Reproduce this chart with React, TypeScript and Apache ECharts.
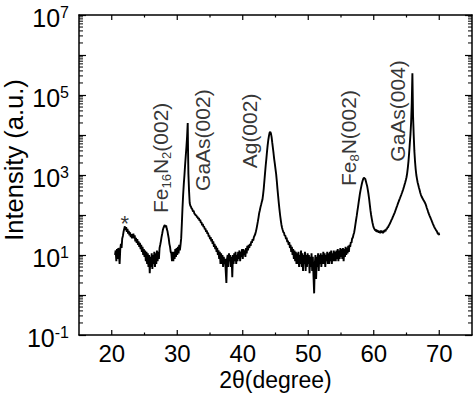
import React, { useEffect, useRef } from 'react';
import * as echarts from 'echarts';

const FONT = "'Liberation Sans', Arial, Helvetica, sans-serif";

// Axis ranges and ticks
const X_MIN = 15;
const X_MAX = 75;
const Y_MIN = 0.1;
const Y_MAX = 1e7;
const xTickValues = [20, 25, 30, 35, 40, 45, 50, 55, 60, 65, 70];
const xLabelValues = [20, 30, 40, 50, 60, 70];
const yLabelExponents = [-1, 1, 3, 5, 7];
const yDecades = [-1, 0, 1, 2, 3, 4, 5, 6];
const yMinorMultipliers = [2, 3, 4, 5, 6, 7, 8, 9];

// XRD scan, [2θ (degree), intensity (a.u.)]
const scanStarRegion: [number, number][] = [
  [20.5, 10], [20.6, 13], [20.7, 7], [20.8, 14], [20.9, 8], [21.0, 15], [21.1, 10], [21.2, 6], [21.3, 14], [21.4, 19],
  [21.5, 15], [21.6, 26], [21.7, 30], [21.8, 38], [21.9, 45], [22.0, 52], [22.1, 42], [22.2, 50], [22.3, 38], [22.4, 45],
  [22.5, 34], [22.6, 40], [22.7, 31], [22.8, 37], [22.9, 28], [23.0, 33], [23.1, 26], [23.2, 31], [23.3, 34], [23.4, 26],
  [23.5, 31], [23.6, 22], [23.7, 27], [23.8, 20], [23.9, 25], [24.0, 18], [24.1, 22], [24.2, 16], [24.3, 20], [24.4, 14],
  [24.5, 18], [24.6, 12], [24.7, 16], [24.8, 10], [24.9, 14], [25.0, 9], [25.1, 13], [25.2, 7], [25.3, 12], [25.4, 6],
  [25.5, 11], [25.6, 5], [25.7, 10], [25.8, 3.5], [25.9, 9], [26.0, 5], [26.1, 11], [26.2, 4.5], [26.3, 10], [26.4, 6],
  [26.5, 12], [26.6, 5], [26.7, 11], [26.8, 6], [26.9, 13], [27.0, 7], [27.1, 12], [27.2, 8], [27.3, 15], [27.4, 18],
];
const scanFe16N2Region: [number, number][] = [
  [27.5, 22], [27.6, 28], [27.7, 34], [27.8, 42], [27.9, 48], [28.0, 53], [28.1, 56], [28.2, 50], [28.3, 55], [28.4, 45],
  [28.5, 40], [28.6, 32], [28.7, 26], [28.8, 19], [28.9, 16], [29.0, 12], [29.1, 11], [29.2, 7], [29.3, 12], [29.4, 7],
  [29.5, 12], [29.6, 8], [29.7, 14], [29.8, 9], [29.9, 15], [30.0, 10], [30.1, 16], [30.2, 11], [30.3, 18], [30.4, 13],
  [30.5, 18], [30.6, 26], [30.7, 60], [30.8, 150], [30.9, 320], [31.0, 600], [31.1, 1000], [31.2, 1800], [31.3, 3000],
  [31.4, 5000], [31.5, 9000], [31.6, 20000], [31.65, 4000], [31.7, 1100], [31.8, 400], [31.9, 200], [32.0, 170],
];
const scanGaAs002Tail: [number, number][] = [
  [32.1, 160], [32.2, 145], [32.3, 140], [32.4, 122], [32.5, 128], [32.6, 110], [32.7, 105], [32.8, 98], [32.9, 100],
  [33.0, 88], [33.1, 90], [33.2, 80], [33.3, 84], [33.4, 72], [33.5, 76], [33.6, 64], [33.7, 66], [33.8, 55], [33.9, 60],
  [34.0, 50], [34.1, 52], [34.2, 44], [34.3, 46], [34.4, 38], [34.5, 41], [34.6, 34], [34.7, 36], [34.8, 29], [34.9, 31],
  [35.0, 25], [35.1, 28], [35.2, 22], [35.3, 25], [35.4, 19], [35.5, 22], [35.6, 16], [35.7, 19], [35.8, 14], [35.9, 17],
  [36.0, 12], [36.1, 15], [36.2, 10], [36.3, 13], [36.4, 8], [36.5, 12], [36.6, 6], [36.7, 11], [36.8, 6], [36.9, 10],
  [37.0, 5], [37.1, 9], [37.2, 6], [37.3, 8], [37.4, 4], [37.5, 2], [37.6, 8], [37.7, 10], [37.8, 5], [37.9, 11],
  [38.0, 7], [38.1, 10], [38.2, 5], [38.3, 9], [38.4, 2.8], [38.5, 10], [38.6, 6], [38.7, 11], [38.8, 7], [38.9, 12],
  [39.0, 6], [39.1, 10], [39.2, 7], [39.3, 12], [39.4, 8], [39.5, 13], [39.6, 7], [39.7, 12], [39.8, 9], [39.9, 14],
  [40.0, 8], [40.1, 14], [40.2, 10], [40.3, 13], [40.4, 9], [40.5, 15], [40.6, 11], [40.7, 17], [40.8, 13], [40.9, 18],
  [41.0, 15], [41.1, 19], [41.2, 17], [41.3, 22], [41.4, 20], [41.5, 25], [41.6, 23], [41.7, 28], [41.8, 28], [41.9, 33],
  [42.0, 38], [42.1, 45], [42.2, 55], [42.3, 68], [42.4, 85], [42.5, 110], [42.6, 130], [42.7, 155], [42.8, 180],
  [42.9, 210], [43.0, 240],
];
const scanAgRegion: [number, number][] = [
  [43.1, 320], [43.2, 450], [43.3, 700], [43.4, 1100], [43.5, 1700], [43.6, 2500], [43.7, 3800], [43.8, 5500],
  [43.9, 7500], [44.0, 9500], [44.1, 11500], [44.2, 12000], [44.3, 11000], [44.4, 9000], [44.5, 6500], [44.6, 4800],
  [44.7, 3500], [44.8, 2500], [44.9, 1900], [45.0, 1400], [45.1, 1050], [45.2, 700], [45.3, 450], [45.4, 300],
  [45.5, 200], [45.6, 140], [45.7, 100], [45.8, 75], [45.9, 58], [46.0, 48], [46.1, 42], [46.2, 37], [46.3, 36],
  [46.4, 30], [46.5, 31], [46.6, 25], [46.7, 27], [46.8, 21], [46.9, 23], [47.0, 18], [47.1, 21], [47.2, 15],
  [47.3, 18], [47.4, 12], [47.5, 16], [47.6, 10], [47.7, 14], [47.8, 8], [47.9, 13], [48.0, 7],
];
const scanBackground: [number, number][] = [
  [48.1, 12], [48.2, 6], [48.3, 11], [48.4, 6], [48.5, 12], [48.6, 5], [48.7, 10], [48.8, 6], [48.9, 13], [49.0, 5],
  [49.1, 11], [49.2, 4], [49.3, 10], [49.4, 6], [49.5, 12], [49.6, 4], [49.7, 10], [49.8, 5], [49.9, 11], [50.0, 6],
  [50.1, 10], [50.2, 3.5], [50.3, 9], [50.4, 5], [50.5, 11], [50.6, 4], [50.7, 9], [50.8, 3], [50.9, 1.1], [51.0, 6],
  [51.1, 10], [51.2, 2.5], [51.3, 9], [51.4, 5], [51.5, 11], [51.6, 4], [51.7, 10], [51.8, 6], [51.9, 11], [52.0, 5],
  [52.1, 10], [52.2, 6], [52.3, 12], [52.4, 6], [52.5, 11], [52.6, 5], [52.7, 10], [52.8, 7], [52.9, 12], [53.0, 6],
  [53.1, 11], [53.2, 6], [53.3, 12], [53.4, 7], [53.5, 13], [53.6, 6], [53.7, 11], [53.8, 7], [53.9, 13], [54.0, 7],
  [54.1, 12], [54.2, 7], [54.3, 13], [54.4, 8], [54.5, 14], [54.6, 7], [54.7, 13], [54.8, 8], [54.9, 15], [55.0, 9],
  [55.1, 14], [55.2, 8], [55.3, 15], [55.4, 7], [55.5, 14], [55.6, 9], [55.7, 16], [55.8, 10], [55.9, 15], [56.0, 11],
  [56.1, 17], [56.2, 12], [56.3, 18], [56.4, 16], [56.5, 21], [56.6, 20], [56.7, 26], [56.8, 27], [56.9, 32],
];
const scanFe8NRegion: [number, number][] = [
  [57.0, 36], [57.1, 45], [57.2, 58], [57.3, 75], [57.4, 95], [57.5, 125], [57.6, 160], [57.7, 210], [57.8, 270],
  [57.9, 350], [58.0, 430], [58.1, 520], [58.2, 620], [58.3, 720], [58.4, 800], [58.5, 850], [58.6, 860], [58.7, 800],
  [58.8, 700], [58.9, 600], [59.0, 520], [59.1, 420], [59.2, 330], [59.3, 250], [59.4, 180], [59.5, 130], [59.6, 100],
  [59.7, 80], [59.8, 65], [59.9, 55], [60.0, 48], [60.1, 45], [60.2, 41], [60.3, 44], [60.4, 38], [60.5, 42],
  [60.6, 37], [60.7, 41], [60.8, 36], [60.9, 40], [61.0, 35], [61.1, 41], [61.2, 36], [61.3, 40], [61.4, 35],
  [61.5, 41], [61.6, 37], [61.7, 43], [61.8, 39], [61.9, 45], [62.0, 44], [62.1, 49], [62.2, 50], [62.3, 55],
  [62.4, 58], [62.5, 63], [62.6, 68], [62.7, 75], [62.8, 80], [62.9, 88], [63.0, 96], [63.1, 105], [63.2, 115],
  [63.3, 128], [63.4, 142], [63.5, 158], [63.6, 175], [63.7, 195], [63.8, 215],
];
const scanGaAs004Region: [number, number][] = [
  [63.9, 238], [64.0, 262], [64.1, 290], [64.2, 320], [64.3, 355], [64.4, 395], [64.5, 440], [64.6, 500], [64.7, 570],
  [64.8, 650], [64.9, 750], [65.0, 880], [65.1, 1100], [65.2, 1500], [65.3, 2200], [65.4, 3500], [65.5, 6000],
  [65.6, 10000], [65.7, 20000], [65.8, 60000], [65.85, 150000], [65.9, 350000], [65.95, 100000], [66.0, 30000],
  [66.1, 10000], [66.2, 4000], [66.3, 2200], [66.4, 1400], [66.5, 1000], [66.6, 800], [66.7, 650], [66.8, 560],
  [66.9, 480], [67.0, 420], [67.1, 360], [67.2, 320], [67.3, 290], [67.4, 270], [67.5, 250], [67.6, 235], [67.7, 220],
  [67.8, 205], [67.9, 190], [68.0, 170], [68.1, 150], [68.2, 135], [68.3, 120], [68.4, 108], [68.5, 98], [68.6, 90],
  [68.7, 82], [68.8, 75], [68.9, 68], [69.0, 62], [69.1, 57], [69.2, 52], [69.3, 48], [69.4, 45], [69.5, 42],
  [69.6, 40], [69.7, 37], [69.8, 33], [69.9, 36], [70.0, 31],
];

// Peak annotations: text parts ([text, isSubscript]) and anchor (2θ, intensity) at the start of the rotated text
const peakLabels: { parts: [string, boolean][]; x: number; y: number }[] = [
  { parts: [['Fe', false], ['16', true], ['N', false], ['2', true], ['(002)', false]], x: 27.5, y: 112 },
  { parts: [['GaAs(002)', false]], x: 33.85, y: 400 },
  { parts: [['Ag(002)', false]], x: 41.1, y: 1470 },
  { parts: [['Fe', false], ['8', true], ['N(002)', false]], x: 56.2, y: 530 },
  { parts: [['GaAs(004)', false]], x: 63.6, y: 2150 },
];
const starMark = { text: '*', x: 22.0, y: 60 };

const scan = [
  ...scanStarRegion, ...scanFe16N2Region, ...scanGaAs002Tail, ...scanAgRegion,
  ...scanBackground, ...scanFe8NRegion, ...scanGaAs004Region,
];

const yMinorTicks: number[] = [];
yDecades.forEach((d) => yMinorMultipliers.forEach((m) => yMinorTicks.push(m * Math.pow(10, d))));

const axisLineStyle = { color: '#000', width: 1.5 };

function buildOption() {
  const yBase = {
    type: 'log' as const,
    logBase: 10,
    min: Y_MIN,
    max: Y_MAX,
    splitNumber: 8,
    axisLine: { show: true, lineStyle: axisLineStyle },
    axisTick: { show: true, inside: true, length: 7, lineStyle: { color: '#000', width: 1.2 } },
    splitLine: { show: false },
    minorTick: { show: false },
  };
  const xBase = {
    type: 'value' as const,
    min: X_MIN,
    max: X_MAX,
    interval: 5,
    axisLine: { show: true, onZero: false, lineStyle: axisLineStyle },
    axisTick: { show: false },
    splitLine: { show: false },
  };
  const richMain = { fontSize: 21, fontFamily: FONT, color: '#000', lineHeight: 24, textBorderWidth: 0 };
  const richSub = { fontSize: 13, fontFamily: FONT, color: '#000', lineHeight: 13, verticalAlign: 'bottom', textBorderWidth: 0 };
  return {
    animation: false,
    backgroundColor: '#fff',
    grid: { left: 79, right: 2, top: 15, bottom: 61, containLabel: false, outerBoundsMode: 'none' },
    xAxis: [
      {
        ...xBase,
        position: 'bottom',
        axisLabel: {
          formatter: (v: number) => (xLabelValues.includes(v) ? String(v) : ''),
          fontSize: 24,
          lineHeight: 19,
          fontFamily: FONT,
          color: '#000',
          margin: 8.5,
        },
        name: '2θ(degree)',
        nameLocation: 'middle',
        nameGap: 36,
        nameMoveOverlap: false,
        nameTextStyle: { fontSize: 23, lineHeight: 18, fontFamily: FONT, color: '#000', verticalAlign: 'top' },
      },
      { ...xBase, position: 'top', axisLabel: { show: false } },
    ],
    yAxis: [
      {
        ...yBase,
        position: 'left',
        axisLabel: {
          showMinLabel: true,
          showMaxLabel: true,
          margin: 10,
          padding: [6, 0, 0, 0],
          formatter: (v: number) => {
            const e = Math.round(Math.log10(v));
            return yLabelExponents.includes(e) ? `{b|10}{e|${e}}` : '';
          },
          rich: {
            b: { fontSize: 25, fontFamily: FONT, color: '#000', lineHeight: 28 },
            e: { fontSize: 16, fontFamily: FONT, color: '#000', lineHeight: 8, verticalAlign: 'top' },
          },
        },
      },
      { ...yBase, position: 'right', axisLabel: { show: false } },
    ],
    graphic: [
      {
        type: 'text',
        x: 14,
        y: 160,
        rotation: Math.PI / 2,
        style: {
          text: 'Intensity (a.u.)',
          font: `25.5px ${FONT}`,
          fill: '#000',
          align: 'center',
          verticalAlign: 'middle',
        },
      },
    ],
    series: [
      {
        type: 'line',
        data: scan,
        xAxisIndex: 0,
        yAxisIndex: 0,
        showSymbol: false,
        symbol: 'none',
        lineStyle: { color: '#000', width: 1.9 },
        silent: true,
        z: 3,
      },
      {
        type: 'custom',
        xAxisIndex: 0,
        yAxisIndex: 0,
        silent: true,
        z: 4,
        data: xTickValues.map((v) => [v, Y_MIN]),
        encode: { x: 0, y: 1 },
        renderItem: (_p: any, api: any) => {
          const v = api.value(0);
          const b = api.coord([v, Y_MIN]);
          const t = api.coord([v, Y_MAX]);
          const len = v % 10 === 0 ? 5 : 2.5;
          const style = { stroke: '#000', lineWidth: 1.2 };
          return {
            type: 'group',
            children: [
              { type: 'line', shape: { x1: b[0], y1: b[1], x2: b[0], y2: b[1] - len }, style },
              { type: 'line', shape: { x1: t[0], y1: t[1], x2: t[0], y2: t[1] + len }, style },
            ],
          };
        },
      },
      {
        type: 'custom',
        xAxisIndex: 0,
        yAxisIndex: 0,
        silent: true,
        z: 4,
        data: yMinorTicks.map((v) => [X_MIN, v]),
        encode: { x: 0, y: 1 },
        renderItem: (_p: any, api: any) => {
          const v = api.value(1);
          const l = api.coord([X_MIN, v]);
          const r = api.coord([X_MAX, v]);
          const style = { stroke: '#000', lineWidth: 1 };
          return {
            type: 'group',
            children: [
              { type: 'line', shape: { x1: l[0], y1: l[1], x2: l[0] + 4, y2: l[1] }, style },
              { type: 'line', shape: { x1: r[0], y1: r[1], x2: r[0] - 4, y2: r[1] }, style },
            ],
          };
        },
      },
      {
        type: 'scatter',
        xAxisIndex: 0,
        yAxisIndex: 0,
        silent: true,
        symbolSize: 1,
        itemStyle: { color: 'rgba(0,0,0,0)' },
        z: 5,
        label: {
          show: true,
          position: 'inside',
          rotate: 90,
          align: 'left',
          verticalAlign: 'middle',
          color: '#000',
          textBorderWidth: 0,
          rich: { m: richMain, s: richSub },
        },
        data: [
          ...peakLabels.map((p) => ({
            value: [p.x, p.y],
            label: {
              formatter: p.parts.map(([t, sub]) => `{${sub ? 's' : 'm'}|${t}}`).join(''),
            },
          })),
          {
            value: [starMark.x, starMark.y],
            label: {
              formatter: starMark.text,
              rotate: 0,
              align: 'center',
              verticalAlign: 'middle',
              fontSize: 22,
              fontFamily: FONT,
              color: '#000',
              textBorderWidth: 0,
            },
          },
        ],
      },
    ],
  };
}

export default function App() {
  const ref = useRef<HTMLDivElement>(null);
  useEffect(() => {
    document.body.style.margin = '0';
    if (!ref.current) return;
    const chart = echarts.init(ref.current, null, { renderer: 'svg' });
    chart.setOption(buildOption() as any);
    return () => chart.dispose();
  }, []);
  return <div ref={ref} style={{ width: 474, height: 396 }} />;
}
